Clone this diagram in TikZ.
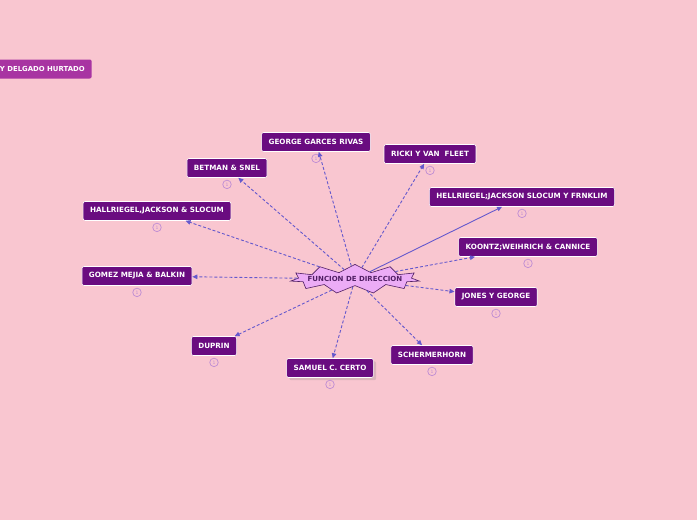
\documentclass[tikz,border=0pt]{standalone}
\usepackage{fontspec}
\setmainfont{DejaVu Sans}
\usetikzlibrary{positioning, shapes.symbols, arrows.meta, shadows}

\definecolor{bgpink}{RGB}{249,198,208}
\definecolor{leafpurple}{RGB}{106,12,128}
\definecolor{toppurple}{RGB}{168,52,162}
\definecolor{centerfill}{RGB}{236,172,246}
\definecolor{centerline}{RGB}{80,30,100}
\definecolor{linkblue}{RGB}{100,88,205}
\definecolor{badgeline}{RGB}{190,140,212}

\begin{document}
\begin{tikzpicture}[
    x=1pt, y=-1pt,
    leaf/.style={rectangle, rounded corners=2pt, draw=white, line width=0.6pt,
        fill=leafpurple, text=white, font=\fontsize{7.2}{8}\selectfont\bfseries,
        minimum height=19pt, inner xsep=7pt},
    topic/.style={starburst, starburst points=11, starburst point height=8pt,
        random starburst=0, draw=centerline, fill=centerfill, line width=0.6pt,
        text=centerline, font=\fontsize{7}{8}\selectfont\bfseries,
        inner xsep=-7pt, inner ysep=2pt},
    badge/.style={circle, draw=badgeline, line width=0.7pt, text=badgeline,
        font=\fontsize{4.5}{5}\selectfont, inner sep=0pt, minimum size=8.5pt},
    myarrow/.style={-{Triangle[length=5pt, width=4.5pt]}, draw=linkblue,
        line width=0.9pt, dash pattern=on 3pt off 2pt},
    mysolid/.style={-{Triangle[length=5pt, width=4.5pt]}, draw=linkblue,
        line width=0.9pt}]

    \fill[bgpink] (0,0) rectangle (697,520);
    \useasboundingbox (0,0) rectangle (697,520);

    \node[leaf, fill=toppurple, draw=none, anchor=east, font=\fontsize{6.9}{8}\selectfont\bfseries] (hurtado) at (92,69) {Y DELGADO HURTADO};

    \node[topic] (funcion) at (355,279) {FUNCION DE DIRECCION};

    \node[leaf] (george) at (316,142) {GEORGE GARCES RIVAS};
    \node[leaf] (betman) at (227,168) {BETMAN \& SNEL};
    \node[leaf] (ricki) at (430,154) {RICKI Y VAN\ \ FLEET};
    \node[leaf] (hellriegel) at (522,197) {HELLRIEGEL;JACKSON SLOCUM Y FRNKLIM};
    \node[leaf] (hallriegel) at (157,211) {HALLRIEGEL,JACKSON \& SLOCUM};
    \node[leaf] (koontz) at (528,247) {KOONTZ;WEIHRICH \& CANNICE};
    \node[leaf] (gomez) at (137,276) {GOMEZ MEJIA \& BALKIN};
    \node[leaf] (jones) at (496,297) {JONES Y GEORGE};
    \node[leaf] (duprin) at (214,346) {DUPRIN};
    \node[leaf, drop shadow={opacity=0.25}] (samuel) at (330,368) {SAMUEL C. CERTO};
    \node[leaf] (schermer) at (432,355) {SCHERMERHORN};

    \foreach \n in {george, betman, ricki, hellriegel, hallriegel, koontz, gomez, jones, duprin, samuel, schermer}
        \node[badge, below=2pt of \n] (\n-badge) {1};

    \draw[myarrow] (funcion) -- (george);
    \draw[myarrow] (funcion) -- (betman);
    \draw[myarrow] (funcion) -- (ricki);
    \draw[mysolid] (funcion) -- (hellriegel);
    \draw[myarrow] (funcion) -- (hallriegel);
    \draw[myarrow] (funcion) -- (koontz);
    \draw[myarrow] (funcion) -- (gomez);
    \draw[myarrow] (funcion) -- (jones);
    \draw[myarrow] (funcion) -- (duprin);
    \draw[myarrow] (funcion) -- (samuel);
    \draw[myarrow] (funcion) -- (schermer);

\end{tikzpicture}
\end{document}
